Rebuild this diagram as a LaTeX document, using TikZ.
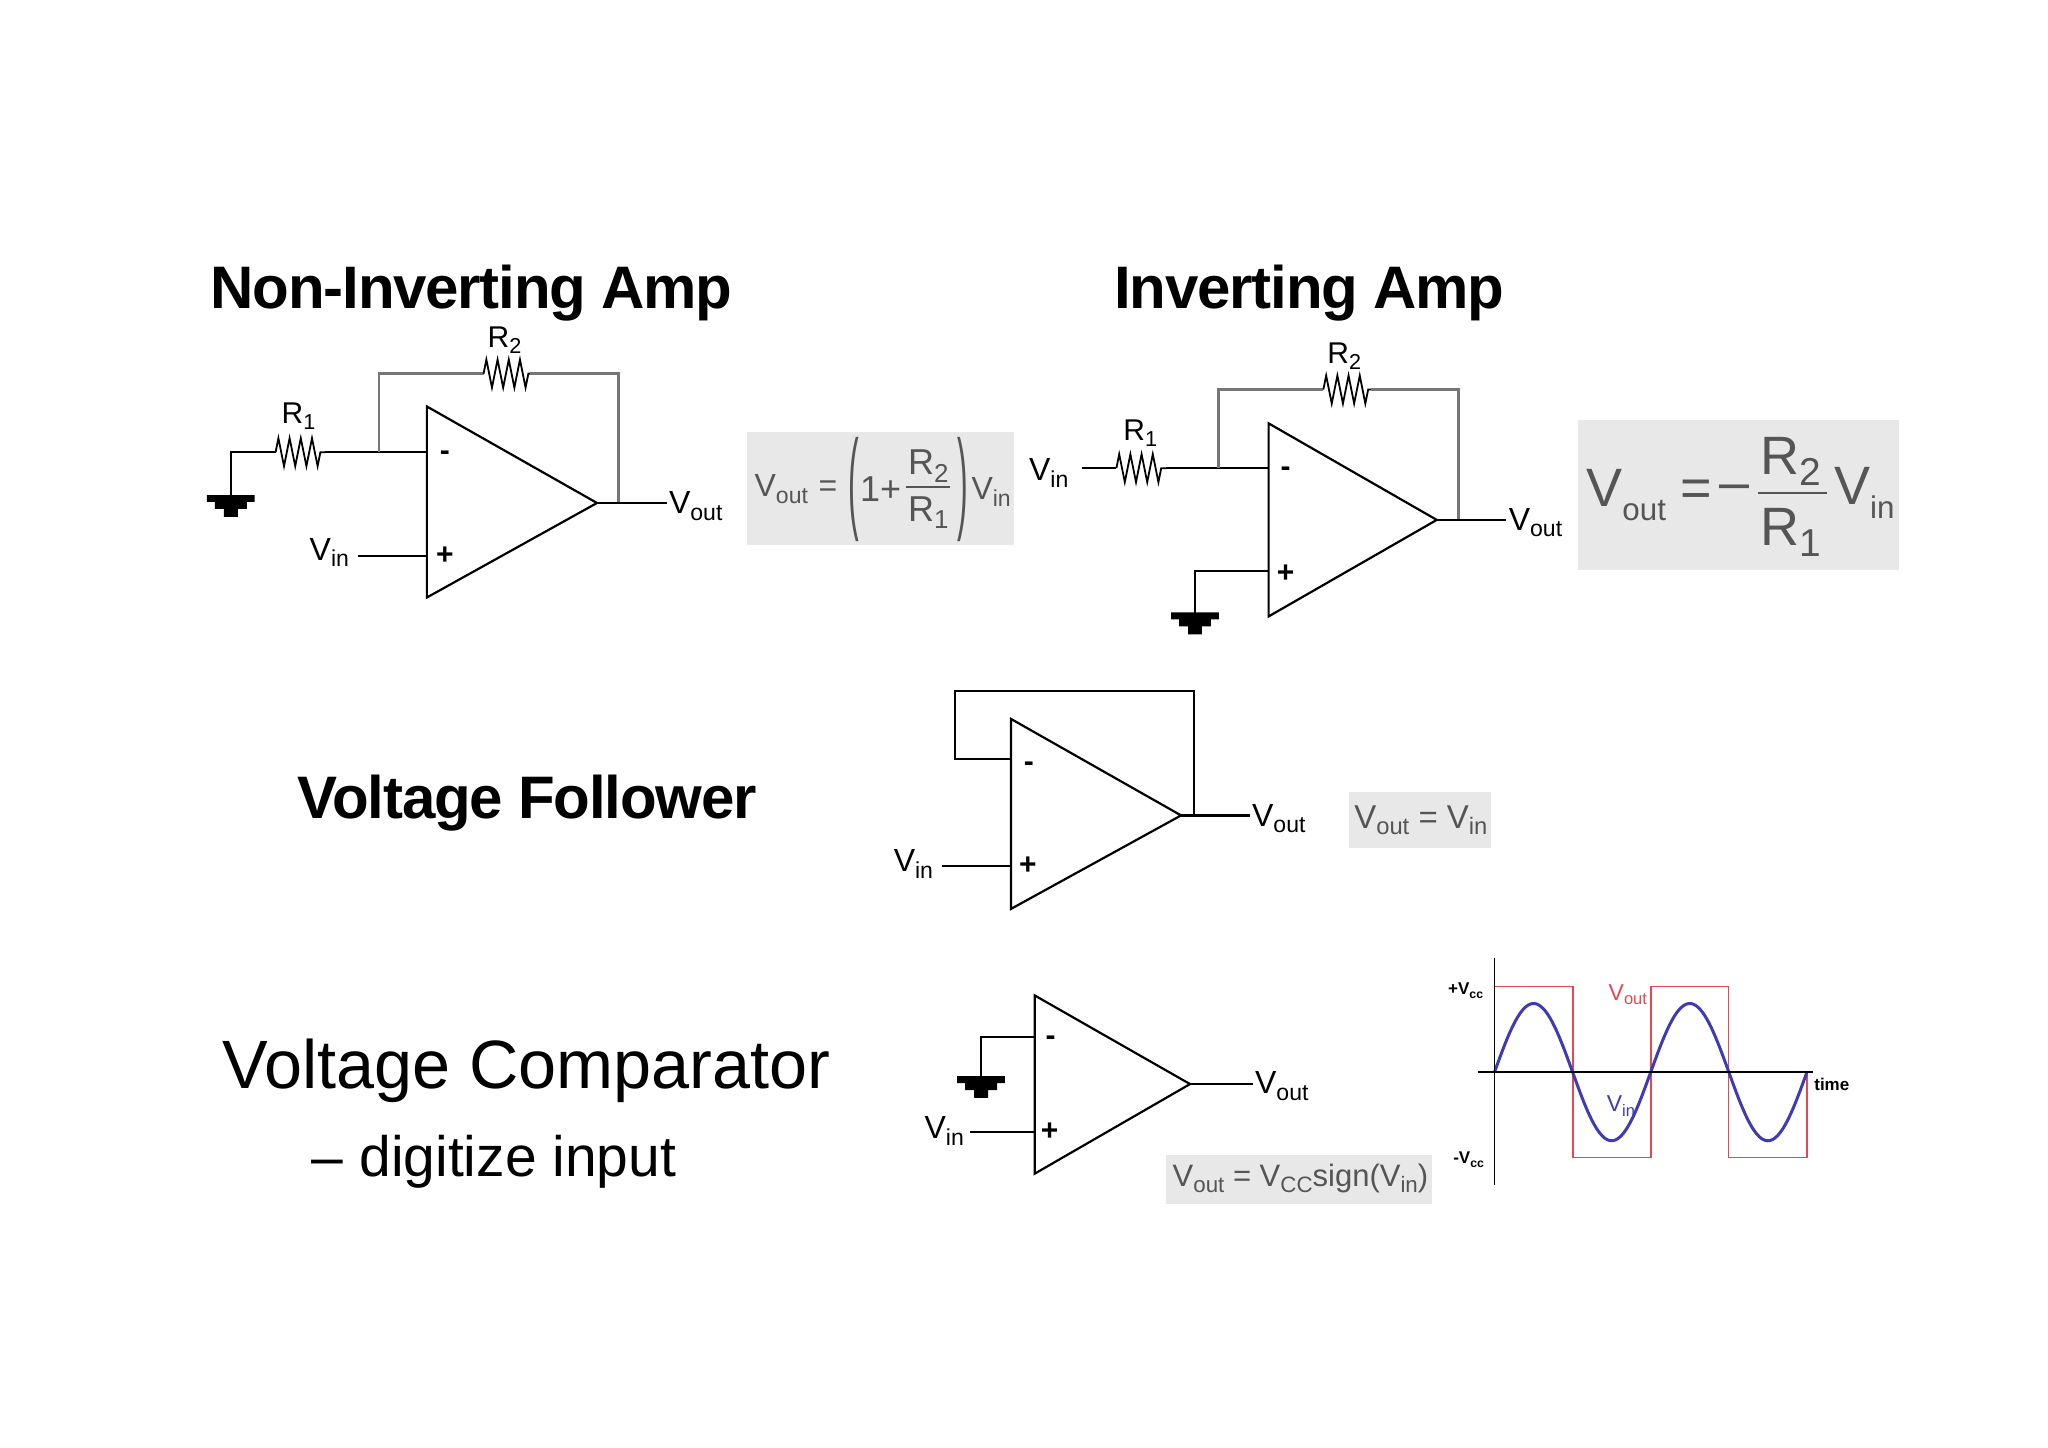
\documentclass[tikz,border=0pt]{standalone}
\usepackage{fontspec}
\usepackage{graphicx}
\setmainfont{Liberation Sans}
\usetikzlibrary{decorations.pathmorphing}
\definecolor{boxgray}{HTML}{E8E8E8}
\definecolor{eqgray}{HTML}{555555}
\definecolor{fbgray}{HTML}{777777}
\definecolor{sigred}{HTML}{E8474F}
\definecolor{sigblue}{HTML}{3C3CB4}
\newcommand{\lo}[1]{\raisebox{-.38ex}{\scalebox{.72}{#1}}}
\newcommand{\los}[1]{\raisebox{-.5ex}{\scalebox{.58}{#1}}}
\newcommand{\gndsym}[1]{%
  \fill[shift={(#1)}] (-24,-1) rectangle (24,6) (-16,6) rectangle (16,13) (-7,13) rectangle (7,21);}
\tikzset{
  wire/.style={line width=1.1pt,black},
  fbwire/.style={line width=1.4pt,fbgray},
  amp/.style={line width=1.1pt,black,line join=miter},
  res/.style={line width=.9pt,black,decorate,decoration={zigzag,amplitude=7pt,segment length=5.6pt}},
  lab/.style={font=\fontsize{16}{18}\selectfont,inner sep=0pt},
  rlab/.style={font=\fontsize{15}{18}\selectfont,inner sep=0pt},
  sign/.style={font=\bfseries\fontsize{15}{16}\selectfont,inner sep=0pt},
  title/.style={font=\bfseries\fontsize{30}{32}\selectfont\addfontfeature{LetterSpace=-2},inner sep=0pt},
  titler/.style={font=\fontsize{34.2}{38}\selectfont,inner sep=0pt},
  eqbox/.style={fill=boxgray,draw=none},
  eq/.style={text=eqgray,inner sep=0pt},
  tick/.style={font=\bfseries\fontsize{8.5}{10}\selectfont,inner sep=0pt},
}
\begin{document}
\begin{tikzpicture}[x=.4975pt,y=-.4975pt]
\useasboundingbox (0,-1.5) rectangle (2058.3,1452.8);

% Titles
\node[title] (t1) at (474,293) {Non-Inverting Amp};
\node[title] (t2) at (1316,293) {Inverting Amp};
\node[title] (t3) at (530,806) {Voltage Follower};
\node[titler] (t4) at (529,1075) {Voltage Comparator};
\node[titler,font=\fontsize{28.5}{32}\selectfont,anchor=west] (t5) at (313,1166) {– digitize input};

% ---------- Non-inverting ----------
\coordinate (a1t) at (429,407); \coordinate (a1b) at (429,599); \coordinate (a1o) at (600,504);
\coordinate (a1m) at (429,453); \coordinate (a1p) at (429,557);
\coordinate (a1fl) at (381,453); \coordinate (a1fr) at (622,504);
\coordinate (a1tl) at (381,374); \coordinate (a1tr) at (622,374);
\coordinate (a1r2a) at (486,374); \coordinate (a1r2b) at (533,374);
\coordinate (a1r1a) at (277,453); \coordinate (a1r1b) at (327,453);
\coordinate (a1g) at (232,453); \coordinate (a1gb) at (232,497);
\coordinate (a1ve) at (670,504); \coordinate (a1vi) at (360,557);
\draw[amp] (a1t) -- (a1o) -- (a1b) -- cycle;
\draw[wire] (a1gb) -- (a1g) -- (a1r1a);
\draw[res] (a1r1a) -- (a1r1b);
\draw[wire] (a1r1b) -- (a1m);
\draw[fbwire] (a1fl) -- (a1tl) -- (a1r2a);
\draw[res] (a1r2a) -- (a1r2b);
\draw[fbwire] (a1r2b) -- (a1tr) -- (a1fr);
\draw[wire] (a1o) -- (a1ve);
\draw[wire] (a1vi) -- (a1p);
\gndsym{a1gb}
\node[rlab] (a1R1) at (300,417) {R\lo{1}};
\node[rlab] (a1R2) at (507,340) {R\lo{2}};
\node[lab,anchor=west] (a1V) at (672,507) {V\lo{out}};
\node[lab] (a1I) at (331,554) {V\lo{in}};
\node[sign] (a1Ms) at (447,456) {-};
\node[sign] (a1Ps) at (447,557) {+};

% Equation 1
\fill[eqbox] (751,433) rectangle (1019,546);
\node[eq,lab,anchor=west,text=eqgray] (e1a) at (758,490) {V\lo{out}};
\node[eq,lab] (e1b) at (832,490) {=};
\node[eq] (e1l) at (858,490) {\scalebox{.8}[2.8]{\fontsize{20}{22}\selectfont (}};
\node[eq,lab,font=\fontsize{18}{20}\selectfont] (e1c) at (885,490) {1+};
\node[eq,lab,font=\fontsize{18}{20}\selectfont] (e1n) at (933,467) {R\lo{2}};
\coordinate (e1fa) at (911,488); \coordinate (e1fb) at (955,488);
\draw[eqgray,line width=.7pt] (e1fa) -- (e1fb);
\node[eq,lab,font=\fontsize{18}{20}\selectfont] (e1d) at (933,514) {R\lo{1}};
\node[eq] (e1r) at (968,490) {\scalebox{.8}[2.8]{\fontsize{20}{22}\selectfont )}};
\node[eq,lab,anchor=west,text=eqgray] (e1v) at (976,493) {V\lo{in}};

% ---------- Inverting ----------
\coordinate (a2t) at (1275,424); \coordinate (a2b) at (1275,618); \coordinate (a2o) at (1444,521);
\coordinate (a2m) at (1275,469); \coordinate (a2p) at (1275,572);
\coordinate (a2fl) at (1225,469); \coordinate (a2fr) at (1466,521);
\coordinate (a2tl) at (1225,390); \coordinate (a2tr) at (1466,390);
\coordinate (a2r2a) at (1330,390); \coordinate (a2r2b) at (1378,390);
\coordinate (a2r1a) at (1122,469); \coordinate (a2r1b) at (1172,469);
\coordinate (a2vi) at (1087,469); \coordinate (a2ve) at (1514,521);
\coordinate (a2g) at (1201,572); \coordinate (a2gb) at (1201,615);
\draw[amp] (a2t) -- (a2o) -- (a2b) -- cycle;
\draw[wire] (a2vi) -- (a2r1a);
\draw[res] (a2r1a) -- (a2r1b);
\draw[wire] (a2r1b) -- (a2m);
\draw[fbwire] (a2fl) -- (a2tl) -- (a2r2a);
\draw[res] (a2r2a) -- (a2r2b);
\draw[fbwire] (a2r2b) -- (a2tr) -- (a2fr);
\draw[wire] (a2o) -- (a2ve);
\draw[wire] (a2p) -- (a2g) -- (a2gb);
\gndsym{a2gb}
\node[rlab] (a2R1) at (1146,434) {R\lo{1}};
\node[rlab] (a2R2) at (1351,356) {R\lo{2}};
\node[lab,anchor=west] (a2V) at (1516,524) {V\lo{out}};
\node[lab] (a2I) at (1054,474) {V\lo{in}};
\node[sign] (a2Ms) at (1292,473) {-};
\node[sign] (a2Ps) at (1292,575) {+};

% Equation 2
\fill[eqbox] (1586,421) rectangle (1909,571);
\node[eq,font=\fontsize{27}{30}\selectfont,anchor=west] (e2a) at (1594,496) {V\los{out}};
\node[eq,font=\fontsize{27}{30}\selectfont] (e2b) at (1705,494) {=};
\node[eq,font=\fontsize{27}{30}\selectfont] (e2m) at (1743,494) {–};
\node[eq,font=\fontsize{27}{30}\selectfont] (e2n) at (1800,462) {R\lo{2}};
\coordinate (e2fa) at (1767,494); \coordinate (e2fb) at (1836,494);
\draw[eqgray,line width=1.1pt] (e2fa) -- (e2fb);
\node[eq,font=\fontsize{27}{30}\selectfont] (e2d) at (1800,534) {R\lo{1}};
\node[eq,font=\fontsize{27}{30}\selectfont,anchor=west] (e2v) at (1843,494) {V\los{in}};

% ---------- Follower ----------
\coordinate (a3t) at (1016,721); \coordinate (a3b) at (1016,912); \coordinate (a3o) at (1187,818);
\coordinate (a3m) at (1016,761); \coordinate (a3p) at (1016,869);
\coordinate (a3c1) at (960,761); \coordinate (a3c2) at (960,693);
\coordinate (a3c3) at (1200,693); \coordinate (a3c4) at (1200,818);
\coordinate (a3vi) at (947,869); \coordinate (a3ve) at (1256,818);
\draw[amp] (a3t) -- (a3o) -- (a3b) -- cycle;
\draw[wire] (a3m) -- (a3c1) -- (a3c2) -- (a3c3) -- (a3c4);
\draw[wire] (a3o) -- (a3ve);
\draw[wire] (a3vi) -- (a3p);
\node[lab,anchor=west] (a3V) at (1258,821) {V\lo{out}};
\node[lab] (a3I) at (918,867) {V\lo{in}};
\node[sign] (a3Ms) at (1034,769) {-};
\node[sign] (a3Ps) at (1033,869) {+};

% Equation 3
\fill[eqbox] (1356,794) rectangle (1498,851);
\node[eq,font=\fontsize{16.5}{20}\selectfont] (e3) at (1428,823) {V\lo{out} = V\lo{in}};

% ---------- Comparator ----------
\coordinate (a4t) at (1040,999); \coordinate (a4b) at (1040,1178); \coordinate (a4o) at (1196,1088);
\coordinate (a4m) at (1040,1041); \coordinate (a4p) at (1040,1136);
\coordinate (a4g) at (986,1041); \coordinate (a4gb) at (986,1081);
\coordinate (a4vi) at (975,1136); \coordinate (a4ve) at (1259,1088);
\draw[amp] (a4t) -- (a4o) -- (a4b) -- cycle;
\draw[wire] (a4m) -- (a4g) -- (a4gb);
\draw[wire] (a4o) -- (a4ve);
\draw[wire] (a4vi) -- (a4p);
\gndsym{a4gb}
\node[lab,anchor=west] (a4V) at (1261,1090) {V\lo{out}};
\node[lab] (a4I) at (949,1135) {V\lo{in}};
\node[sign] (a4Ms) at (1056,1044) {-};
\node[sign] (a4Ps) at (1055,1136) {+};

% Equation 4
\fill[eqbox] (1172,1159) rectangle (1439,1209);
\node[eq,font=\fontsize{15.5}{20}\selectfont] (e4) at (1307,1183) {V\lo{out} = V\lo{CC}sign(V\lo{in})};

% ---------- Plot ----------
\coordinate (py1) at (1502,961); \coordinate (py2) at (1502,1189);
\coordinate (px1) at (1485,1076); \coordinate (px2) at (1822,1076);
\coordinate (q0) at (1502,990); \coordinate (q1) at (1581,990); \coordinate (q2) at (1581,1162);
\coordinate (q3) at (1659,1162); \coordinate (q4) at (1659,990); \coordinate (q5) at (1737,990);
\coordinate (q6) at (1737,1162); \coordinate (q7) at (1816,1162); \coordinate (q8) at (1816,1076);
\draw[line width=.8pt,sigred] (q0) -- (q1) -- (q2) -- (q3) -- (q4) -- (q5) -- (q6) -- (q7) -- (q8);
\draw[line width=1.5pt,sigblue,variable=\t,domain=0:2,samples=120,smooth] plot ({1502+157*\t},{1076-69*sin(360*\t)});
\draw[line width=.8pt,black] (py1) -- (py2);
\draw[line width=.8pt,black] (px1) -- (px2);
\node[tick] (pvp) at (1473,994) {+V\lo{cc}};
\node[tick] (pvn) at (1476,1164) {-V\lo{cc}};
\node[tick] (ptm) at (1841,1088) {time};
\node[inner sep=0pt,text=sigred,font=\fontsize{11.5}{13}\selectfont] (pvo) at (1636,998) {V\lo{out}};
\node[inner sep=0pt,text=sigblue,font=\fontsize{11.5}{13}\selectfont] (pvi) at (1629,1110) {V\lo{in}};
\end{tikzpicture}
\end{document}
